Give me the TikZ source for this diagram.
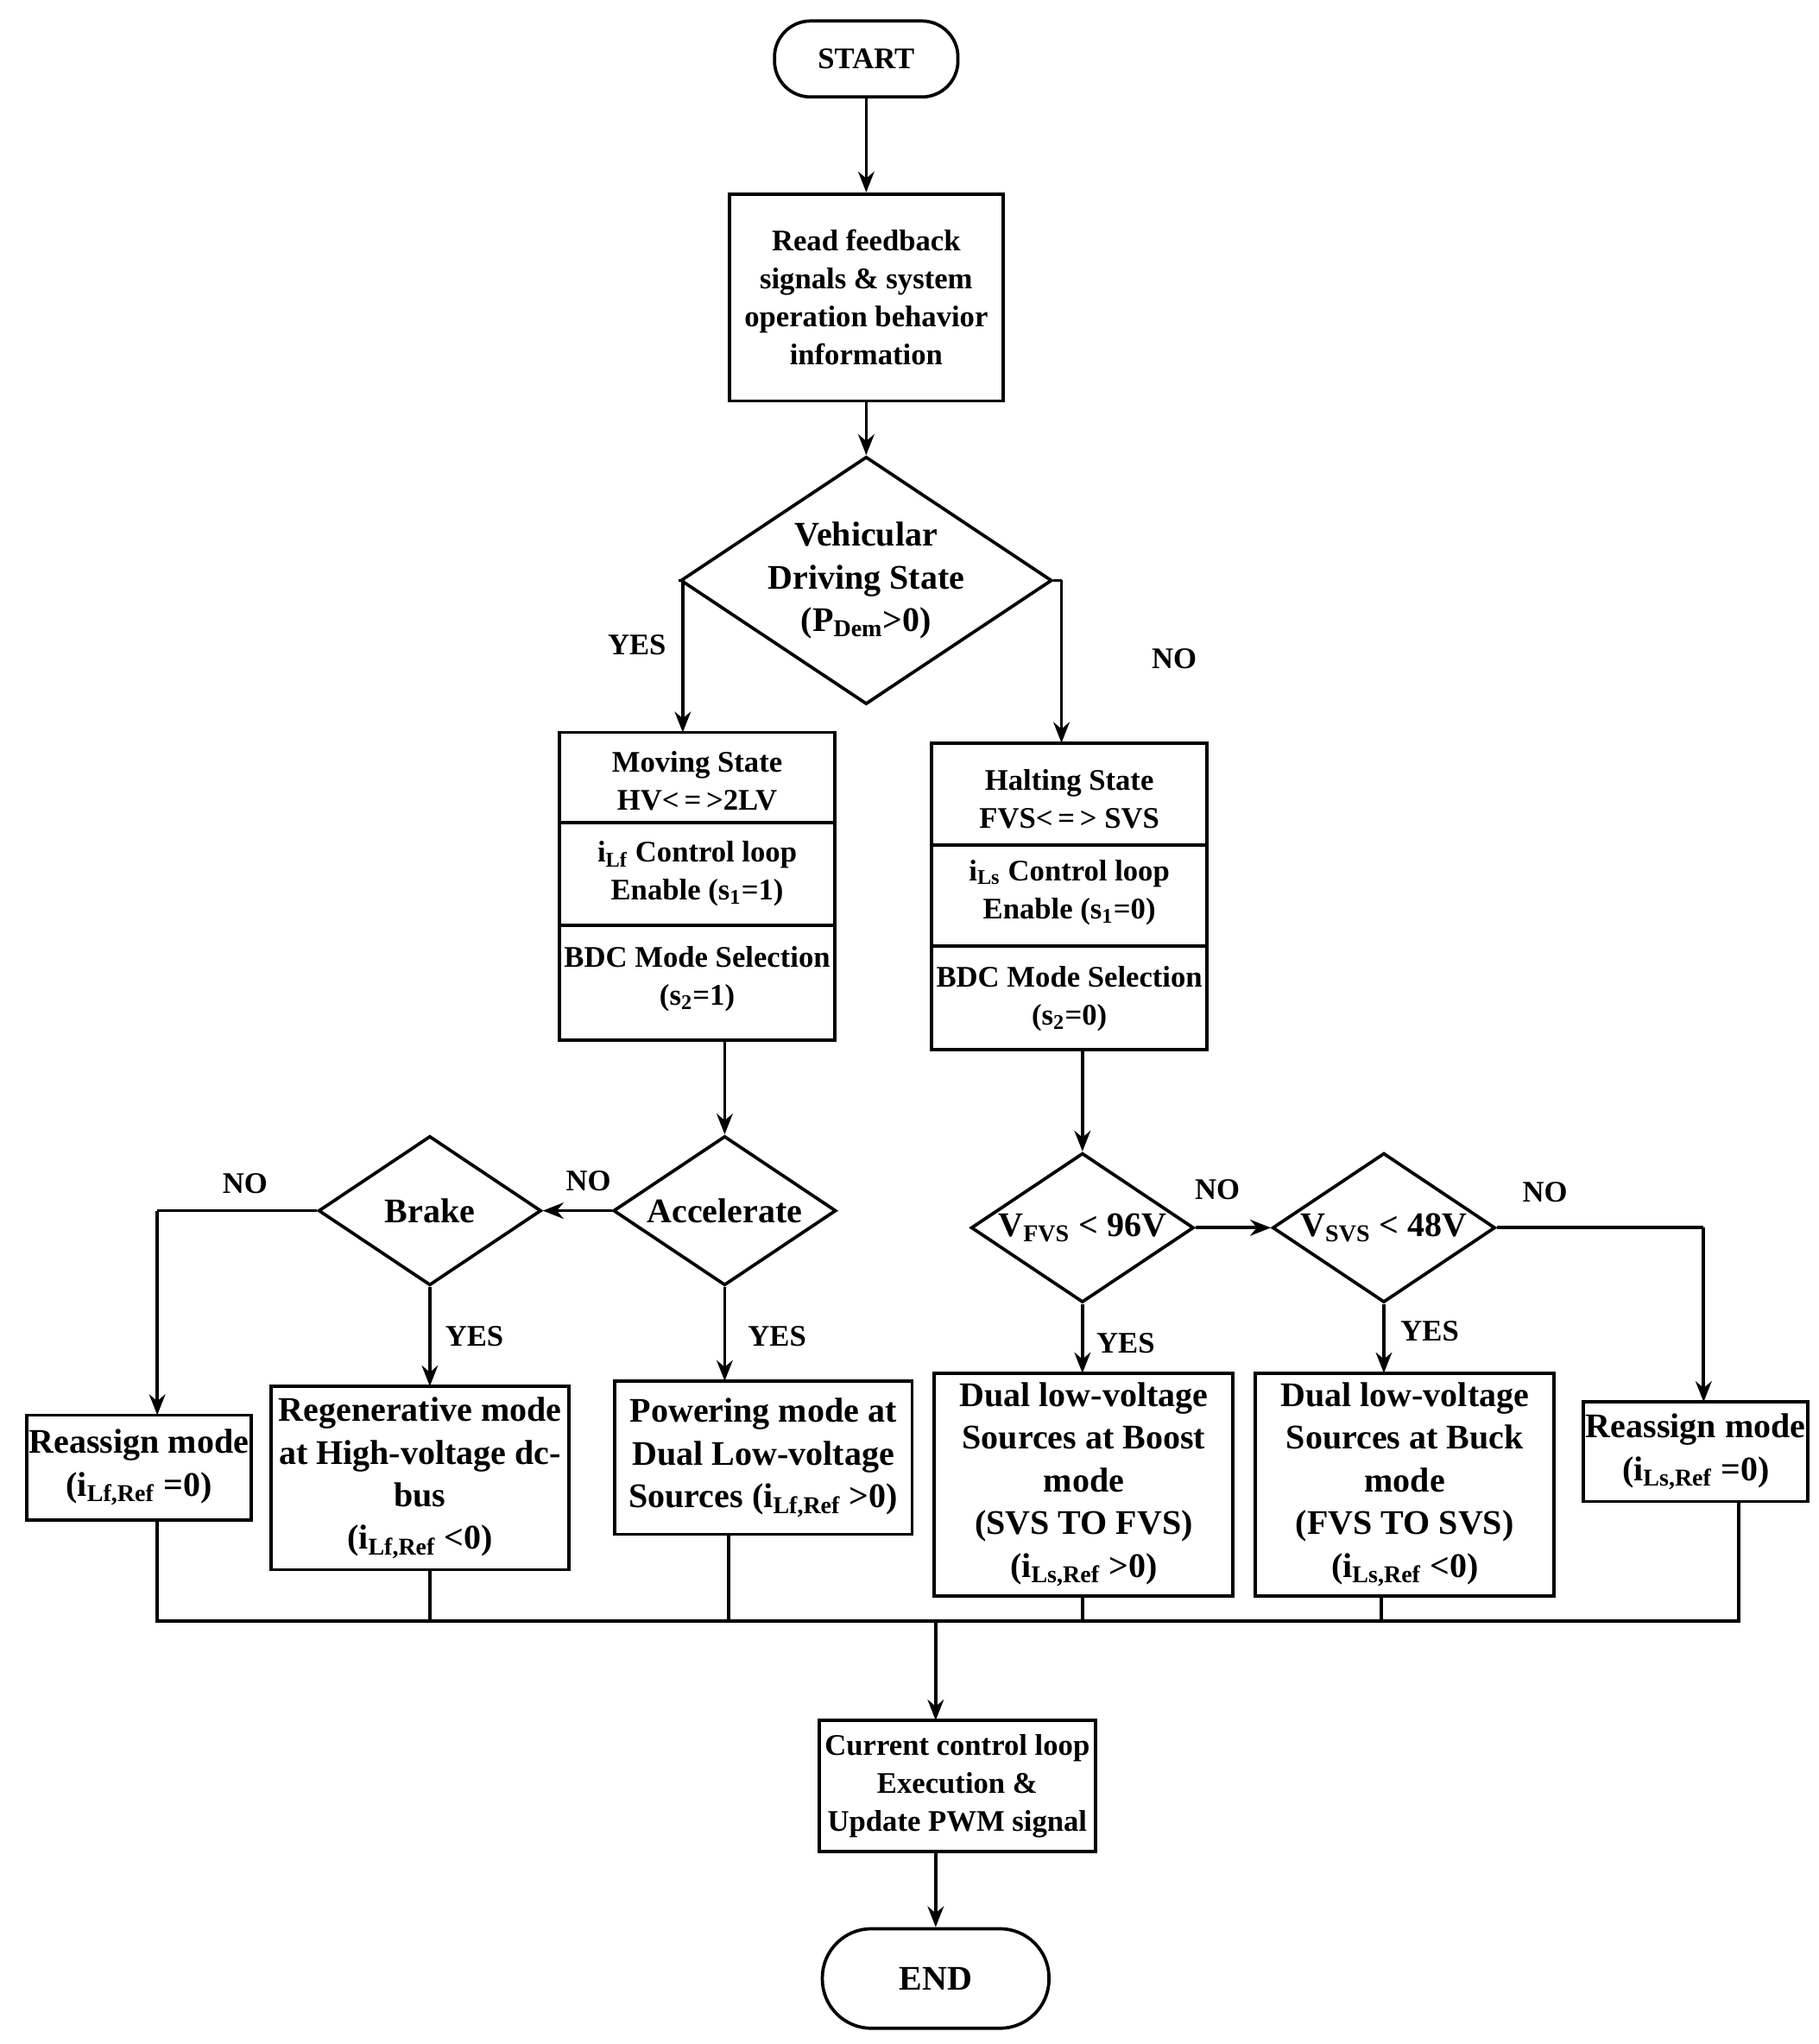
\documentclass[tikz,border=0pt]{standalone}
\usepackage{fontspec}
\setmainfont{Liberation Serif}
\usetikzlibrary{shapes.geometric,arrows.meta}
\newcommand{\sbs}[1]{\textsubscript{#1}}
\begin{document}
\begin{tikzpicture}[x=0.02cm,y=-0.02cm,
  every node/.style={font=\bfseries\fontsize{13}{16.5}\selectfont,align=center,inner sep=1pt},
  big/.style={font=\bfseries\fontsize{15}{18.5}\selectfont},
  box/.style={draw,line width=1.4pt,rectangle},
  dia/.style={draw,line width=1.4pt,diamond,aspect=1.5,inner sep=0pt},
  term/.style={draw,line width=1.4pt,rounded corners=0.55cm},
  ar/.style={line width=1.4pt,-{Stealth[length=9pt,width=7pt]}},
  ln/.style={line width=1.4pt}]
\useasboundingbox (0,0) rectangle (1388,1560);
\node[term,minimum width=2.8cm,minimum height=1.16cm] (start) at (661,45) {START};
\node[box,minimum width=4.18cm,minimum height=3.16cm] (read) at (661,227) {Read feedback\\signals \& system\\operation behavior\\information};
\node[dia,big,minimum width=4.52cm,minimum height=3.46cm] (veh) at (661,443) {Vehicular\\Driving State\\(P\sbs{Dem}>0)};
\node at (486,492) {YES};
\node at (896,503) {NO};
% Moving block
\node[box,minimum width=4.2cm,minimum height=4.7cm] (mov) at (532,676.5) {};
\draw[ln] (427,628) -- (637,628) (427,706) -- (637,706);
\node (mov1) at (532,596) {Moving State\\HV<\,=\,>2LV};
\node (mov2) at (532,667) {i\sbs{Lf} Control loop\\Enable (s\sbs{1}=1)};
\node (mov3) at (532,747) {BDC Mode Selection\\(s\sbs{2}=1)};
% Halting block
\node[box,minimum width=4.2cm,minimum height=4.68cm] (hal) at (816,684) {};
\draw[ln] (711,645) -- (921,645) (711,722) -- (921,722);
\node (hal1) at (816,610) {Halting State\\FVS<\,=\,> SVS};
\node (hal2) at (816,681) {i\sbs{Ls} Control loop\\Enable (s\sbs{1}=0)};
\node (hal3) at (816,762) {BDC Mode Selection\\(s\sbs{2}=0)};
\coordinate (vl) at (521,443); \coordinate (vr) at (810,443);
\draw[ln] (veh.west) -- (vl); \draw[ar] (vl) -- (521,559);
\draw[ln] (veh.east) -- (vr); \draw[ar] (vr) -- (810,567);
\draw[ar] (start) -- (read);
\draw[ar] (read) -- (veh);
% left decisions
\node[dia,big,minimum width=3.4cm,minimum height=2.28cm] (acc) at (553,924) {Accelerate};
\node[dia,big,minimum width=3.4cm,minimum height=2.28cm] (brk) at (328,924) {Brake};
\draw[ar] (553,794) -- (acc.north);
\draw[ar] (acc.west) -- (brk.east);
\node at (449,901) {NO};
\node at (187,903) {NO};
\node at (362,1020) {YES};
\node at (593,1020) {YES};
\node[box,big,minimum width=3.32cm,minimum height=1.6cm] (rl) at (106,1120) {Reassign mode\\(i\sbs{Lf,Ref} =0)};
\node[box,big,minimum width=4.54cm,minimum height=2.8cm] (reg) at (320.5,1128) {Regenerative mode\\at High-voltage dc-\\bus\\(i\sbs{Lf,Ref} <0)};
\node[box,big,minimum width=4.54cm,minimum height=2.34cm] (pow) at (582.5,1112.5) {Powering mode at\\Dual Low-voltage\\Sources (i\sbs{Lf,Ref} >0)};
\coordinate (bl) at (120,924);
\draw[ln] (brk.west) -- (bl); \draw[ar] (bl) -- (120,1080);
\draw[ar] (brk.south) -- (328,1058);
\draw[ar] (acc.south) -- (553,1054);
% right decisions
\node[dia,big,minimum width=3.4cm,minimum height=2.28cm] (vf) at (826,937) {V\sbs{FVS} < 96V};
\node[dia,big,minimum width=3.4cm,minimum height=2.28cm] (vs) at (1056,937) {V\sbs{SVS} < 48V};
\draw[ar] (826,801) -- (vf.north);
\draw[ar] (vf.east) -- (vs.west);
\node at (929,908) {NO};
\node at (1179,910) {NO};
\node at (859,1025) {YES};
\node at (1091,1016) {YES};
\node[box,big,minimum width=4.56cm,minimum height=3.4cm] (boost) at (827,1133) {Dual low-voltage\\Sources at Boost\\mode\\(SVS TO FVS)\\(i\sbs{Ls,Ref} >0)};
\node[box,big,minimum width=4.56cm,minimum height=3.4cm] (buck) at (1072,1133) {Dual low-voltage\\Sources at Buck\\mode\\(FVS TO SVS)\\(i\sbs{Ls,Ref} <0)};
\node[box,big,minimum width=3.32cm,minimum height=1.52cm] (rr) at (1294,1108) {Reassign mode\\(i\sbs{Ls,Ref} =0)};
\draw[ar] (vf.south) -- (826,1048);
\draw[ar] (vs.south) -- (1056,1048);
\coordinate (vsr) at (1300,937);
\draw[ln] (vs.east) -- (vsr); \draw[ar] (vsr) -- (1300,1070);
% bus
\draw[ln] (120,1160) -- (120,1237) -- (1327,1237) -- (1327,1146);
\draw[ln] (328,1198) -- (328,1237) (556,1171) -- (556,1237) (826,1218) -- (826,1237) (1054,1218) -- (1054,1237);
\node[box,minimum width=4.22cm,minimum height=2cm] (cur) at (730.5,1363) {Current control loop\\Execution \&\\Update PWM signal};
\draw[ar] (714,1237) -- (714,1313);
\node[term,big,minimum width=3.46cm,minimum height=1.52cm,rounded corners=0.75cm] (end) at (714,1510) {END};
\draw[ar] (714,1413) -- (end.north);
\end{tikzpicture}
\end{document}
